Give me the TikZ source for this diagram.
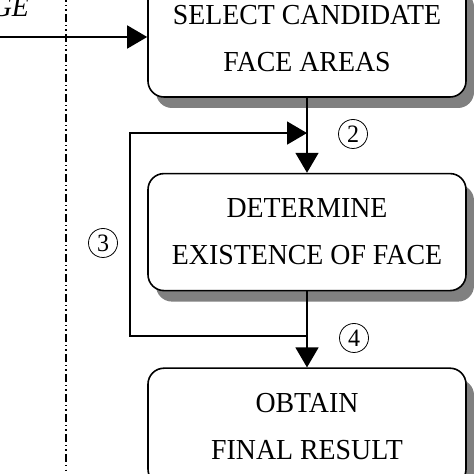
\documentclass[tikz,border=0pt]{standalone}
\usepackage{fontspec}
\setmainfont[FakeStretch=0.96]{Liberation Serif}
\usetikzlibrary{positioning,shadows,arrows.meta,calc}
\begin{document}
\begin{tikzpicture}[x=1pt,y=1pt,line width=1.6pt]
    \tikzstyle{marrs}=[line width=1.6pt,-{Triangle[length=20pt,width=23pt]}]
    \tikzstyle{fbox}=[draw=black, rounded corners=16pt, fill=white,
        minimum width=318pt, minimum height=117pt, align=center,
        font=\fontsize{29}{47}\selectfont,
        drop shadow={shadow xshift=8pt, shadow yshift=-11pt, fill=black!50, opacity=1},
        node distance=75pt]
    \tikzstyle{cnum}=[circle, draw=black, line width=0.8pt, inner sep=0pt,
        minimum size=29pt, font=\fontsize{25}{25}\selectfont]

    \useasboundingbox (0,0) rectangle (474,474);
    \clip (0,0) rectangle (474,474);

    % separator
    \coordinate (dtop) at (66,480);
    \coordinate (dbot) at (66,-6);
    \draw[line width=1.2pt, dash pattern=on 8pt off 3pt on 1.5pt off 3pt on 1.5pt off 3pt] (dtop) -- (dbot);

    \node[fbox] (sel) at (307,435.5) {SELECT CANDIDATE\\FACE AREAS};
    \node[fbox, below=75pt of sel] (det) {DETERMINE\\EXISTENCE OF FACE};
    \node[fbox, below=76pt of det] (res) {OBTAIN\\FINAL RESULT};

    \node[anchor=base east, font=\fontsize{29}{29}\selectfont\itshape] (img) at (33,457) {GE};

    \coordinate (in) at ([xshift=-150pt,yshift=1.5pt]sel.west);
    \draw[marrs] (in) -- ([yshift=1.5pt]sel.west);

    \coordinate (j2) at ($(sel.south)!0.47!(det.north)$);
    \coordinate (j4) at ($(det.south)!0.59!(res.north)$);
    \coordinate (c1) at (130,0 |- j4);
    \coordinate (c2) at (130,0 |- j2);

    \draw[marrs] (sel.south) -- (det.north);
    \draw[marrs] (det.south) -- (res.north);
    \draw[marrs] (j4) -- (c1) -- (c2) -- (j2);

    \node[cnum] (n2) at (353,340) {2};
    \node[cnum] (n3) at (103,231) {3};
    \node[cnum] (n4) at (354,136) {4};
\end{tikzpicture}
\end{document}
